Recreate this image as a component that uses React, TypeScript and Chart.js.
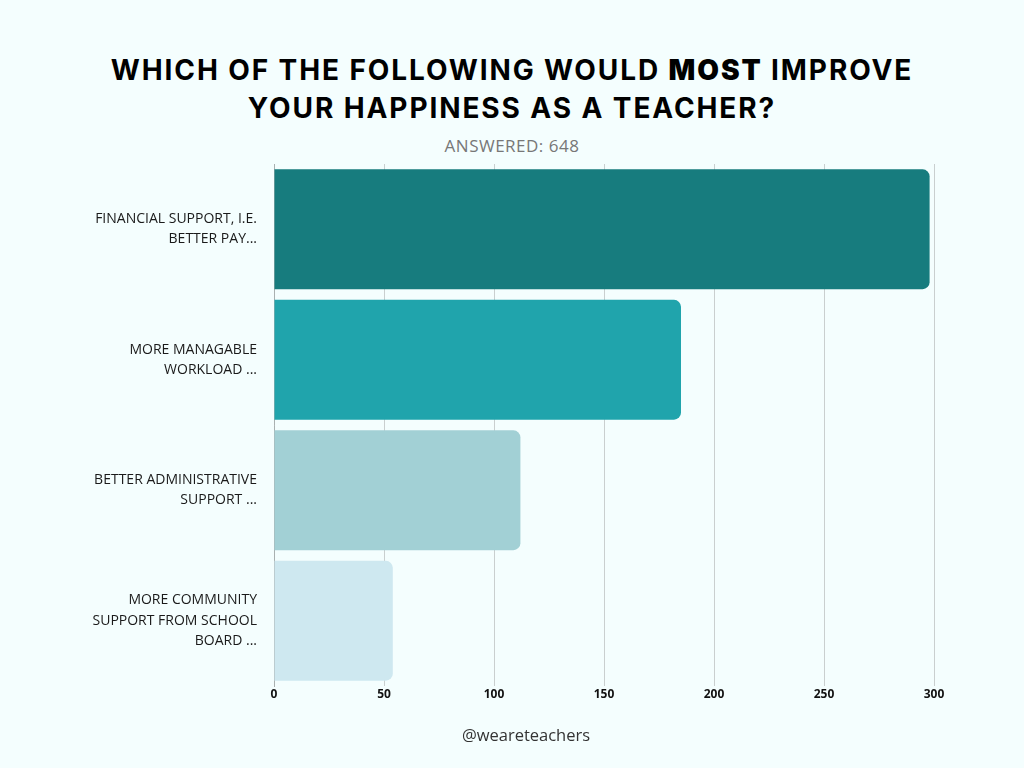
import React, { useEffect, useRef } from "react";
import { Chart, registerables } from "chart.js";

Chart.register(...registerables);

const categories: string[][] = [
  ["FINANCIAL SUPPORT, I.E.", "BETTER PAY..."],
  ["MORE MANAGABLE", "WORKLOAD ..."],
  ["BETTER ADMINISTRATIVE", "SUPPORT ..."],
  ["MORE COMMUNITY", "SUPPORT FROM SCHOOL", "BOARD ..."],
];
const responses: number[] = [298, 185, 112, 54];
const barColors: string[] = ["#177C7E", "#20A4AC", "#A2D0D5", "#CEE8F0"];
const xMin = 0;
const xMax = 300;
const xStep = 50;

const BG = "#F4FEFE";

export default function App() {
  const ref = useRef<HTMLCanvasElement | null>(null);

  useEffect(() => {
    document.body.style.margin = "0";
    document.body.style.background = BG;
    if (!ref.current) return;
    const chart = new Chart(ref.current, {
      type: "bar",
      data: {
        labels: categories,
        datasets: [
          {
            data: responses,
            backgroundColor: barColors,
            borderRadius: 7,
            borderSkipped: "start",
            barPercentage: 0.918,
            categoryPercentage: 1,
          },
        ],
      },
      options: {
        indexAxis: "y",
        animation: false,
        responsive: true,
        maintainAspectRatio: false,
        layout: { padding: { left: 0, right: 90, top: 164, bottom: 62 } },
        plugins: {
          legend: { display: false },
          title: { display: false },
          tooltip: { enabled: false },
        },
        scales: {
          x: {
            min: xMin,
            max: xMax,
            afterFit: (s: any) => {
              s.height = 20;
            },
            ticks: {
              stepSize: xStep,
              padding: 1,
              color: "#111",
              font: { family: "'Open Sans'", size: 12, weight: "bold" },
            },
            grid: { color: "#C9CFCF", lineWidth: 1, drawTicks: false },
            border: { display: false },
          },
          y: {
            afterFit: (s: any) => {
              s.width = 274;
            },
            ticks: {
              padding: 9,
              color: "#1A1A1A",
              font: { family: "'Open Sans'", size: 14, lineHeight: 1.45 },
            },
            grid: { display: false },
            border: { display: true, color: "#A9B0B0", width: 1 },
          },
        },
      },
    });
    return () => chart.destroy();
  }, []);

  return (
    <div
      style={{
        position: "fixed",
        left: 0,
        top: 0,
        width: 1024,
        height: 768,
        background: BG,
        overflow: "hidden",
      }}
    >
      <div
        style={{
          position: "absolute",
          left: 0,
          width: 1024,
          top: 51,
          textAlign: "center",
          fontFamily: "Inter, sans-serif",
          fontWeight: 700,
          fontSize: 28,
          lineHeight: "38px",
          letterSpacing: "1.9px",
          color: "#000",
        }}
      >
        <div>
          WHICH OF THE FOLLOWING WOULD <span style={{ fontWeight: 900 }}>MOST</span> IMPROVE
        </div>
        <div>YOUR HAPPINESS AS A TEACHER?</div>
      </div>
      <div
        style={{
          position: "absolute",
          left: 0,
          width: 1024,
          top: 134,
          textAlign: "center",
          fontFamily: "'Open Sans', sans-serif",
          fontSize: 17,
          lineHeight: "24px",
          letterSpacing: "0.5px",
          color: "#777",
        }}
      >
        ANSWERED: 648
      </div>
      <canvas
        ref={ref}
        style={{ position: "absolute", left: 0, top: 0, width: 1024, height: 768 }}
        width={1024}
        height={768}
      />
      <div
        style={{
          position: "absolute",
          left: 0,
          width: 1052,
          top: 724,
          textAlign: "center",
          fontFamily: "'Open Sans', sans-serif",
          fontSize: 16.5,
          lineHeight: "22px",
          color: "#333",
        }}
      >
        @weareteachers
      </div>
    </div>
  );
}
